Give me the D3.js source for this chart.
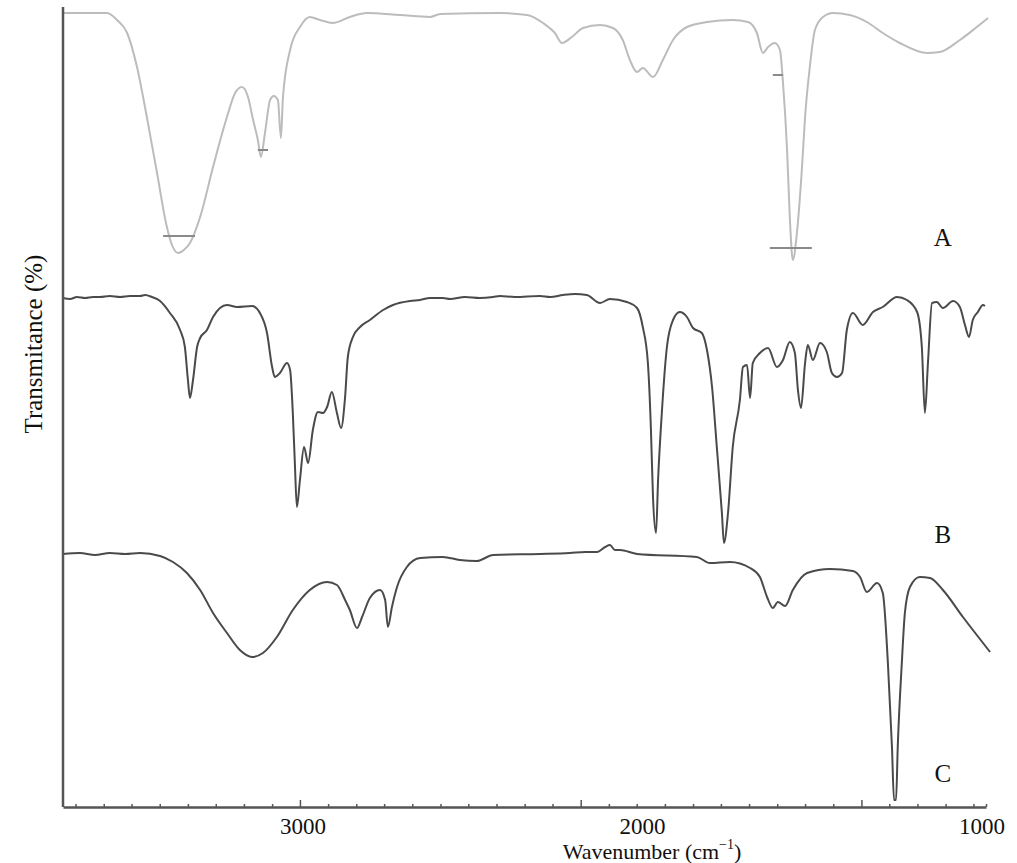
<!DOCTYPE html>
<html>
<head>
<meta charset="utf-8">
<script src="https://cdn.jsdelivr.net/npm/d3@7"></script>
<style>
	body { margin: 0; background: #fff; }
	text { font-family: "Liberation Serif", "DejaVu Serif", serif; fill: #111; }
</style>
</head>
<body>
<svg id="myChart" width="1017" height="863"></svg>
<script>
// Spectra: [wavenumber (cm-1), offset transmittance (a.u.)]
const spectrumA = [
	[3707, 794], [3577, 794], [3548, 787], [3518, 774], [3489, 740], [3460, 690], [3430, 634],
	[3401, 580], [3386, 562], [3368, 554], [3351, 557], [3333, 564], [3303, 590], [3265, 640],
	[3224, 690], [3200, 714], [3180, 720], [3162, 710], [3147, 687], [3133, 667], [3124, 650],
	[3112, 674], [3097, 707], [3086, 711], [3074, 707], [3065, 669], [3059, 710], [3038, 757],
	[3009, 780], [2980, 790], [2950, 787], [2912, 784], [2862, 790], [2812, 794], [2714, 792],
	[2626, 790], [2596, 793], [2420, 794], [2340, 792], [2293, 784], [2258, 774], [2237, 764],
	[2208, 770], [2175, 779], [2125, 782], [2087, 779], [2058, 767], [2037, 747], [2016, 735],
	[1999, 739], [1969, 730], [1940, 747], [1910, 767], [1869, 780], [1810, 785], [1734, 787],
	[1689, 785], [1663, 774], [1645, 754], [1630, 760], [1610, 764], [1595, 757], [1586, 724],
	[1574, 657], [1566, 590], [1557, 547], [1545, 574], [1530, 640], [1521, 690], [1507, 740],
	[1492, 777], [1468, 790], [1439, 794], [1389, 792], [1339, 785], [1292, 774], [1242, 764],
	[1162, 754], [1124, 755], [1065, 767], [1015, 780], [982, 789]
];

// Peak marker bars on spectrum A: [from, to, level]
const markersA = [
	[3412, 3318, 571], [3133, 3103, 657], [1625, 1501, 559], [1616, 1586, 732]
];

const spectrumB = [
	[3707, 509], [3686, 508], [3666, 510], [3642, 509], [3619, 510], [3598, 510], [3569, 511],
	[3539, 510], [3510, 511], [3480, 511], [3465, 512], [3445, 510], [3421, 506], [3392, 494],
	[3362, 477], [3348, 460], [3339, 427], [3333, 409], [3324, 427], [3312, 460], [3303, 469],
	[3283, 477], [3265, 490], [3224, 502], [3194, 500], [3150, 501], [3127, 494], [3106, 474],
	[3091, 440], [3083, 430], [3068, 434], [3047, 444], [3038, 437], [3030, 394], [3024, 344],
	[3018, 300], [3009, 327], [2997, 360], [2985, 344], [2971, 377], [2956, 395], [2941, 394],
	[2929, 400], [2915, 415], [2900, 394], [2888, 379], [2876, 410], [2868, 450], [2853, 470],
	[2832, 480], [2803, 487], [2764, 497], [2735, 502], [2685, 506], [2655, 507], [2626, 509],
	[2588, 509], [2567, 508], [2523, 510], [2479, 509], [2440, 510], [2420, 511], [2376, 510],
	[2302, 511], [2272, 510], [2234, 512], [2199, 513], [2164, 512], [2125, 504], [2096, 508],
	[2046, 505], [2016, 499], [1999, 480], [1984, 444], [1975, 377], [1969, 310], [1960, 274],
	[1954, 327], [1943, 394], [1928, 460], [1910, 487], [1890, 495], [1869, 490], [1851, 479],
	[1825, 474], [1810, 457], [1795, 420], [1781, 360], [1766, 294], [1760, 264], [1748, 294],
	[1734, 360], [1713, 407], [1704, 440], [1692, 442], [1683, 409], [1675, 444], [1654, 454],
	[1630, 459], [1604, 440], [1586, 447], [1566, 465], [1551, 454], [1542, 417], [1533, 399],
	[1521, 444], [1513, 462], [1498, 447], [1477, 464], [1457, 455], [1442, 434], [1427, 430],
	[1412, 434], [1398, 477], [1380, 494], [1351, 482], [1321, 495], [1292, 500], [1250, 510],
	[1221, 507], [1191, 495], [1177, 460], [1168, 394], [1159, 444], [1147, 504], [1133, 505],
	[1115, 499], [1085, 506], [1065, 500], [1050, 482], [1038, 470], [1027, 487], [1012, 495],
	[997, 502], [991, 501]
];

const spectrumC = [
	[3707, 253], [3657, 254], [3613, 252], [3569, 254], [3524, 253], [3480, 254], [3421, 251],
	[3383, 245], [3342, 234], [3303, 217], [3265, 194], [3224, 174], [3186, 157], [3150, 150],
	[3118, 154], [3077, 170], [3030, 197], [2980, 217], [2929, 225], [2900, 222], [2876, 207],
	[2862, 197], [2841, 179], [2826, 190], [2803, 209], [2773, 217], [2758, 207], [2750, 180],
	[2738, 200], [2723, 220], [2694, 240], [2655, 249], [2588, 250], [2538, 247], [2488, 246],
	[2440, 252], [2302, 253], [2214, 254], [2169, 255], [2134, 255], [2110, 260], [2096, 262],
	[2081, 257], [2066, 257], [2016, 253], [1840, 250], [1801, 244], [1742, 245], [1683, 239],
	[1654, 230], [1633, 210], [1616, 199], [1601, 205], [1580, 201], [1557, 217], [1515, 234],
	[1448, 238], [1380, 236], [1359, 230], [1339, 215], [1309, 224], [1292, 214], [1277, 144],
	[1265, 60], [1259, 7], [1253, 7], [1248, 60], [1236, 144], [1227, 194], [1212, 220],
	[1183, 230], [1153, 229], [1115, 217], [1056, 190], [976, 155]
];

// Curve names and where the names sit: [name, wavenumber, level]
const curveLabels = [['A', 1115, 561], ['B', 1115, 264], ['C', 1115, 25]];

// Axis ticks as printed on the figure
const tickLabels = [3000, 2000, 1000];
const minorTicks = [3670, 3587, 3505, 3422, 3339, 3257, 3174, 3091, 3009, 2926, 2843, 2761,
	2678, 2595, 2513, 2430, 2347, 2265, 2182, 2099, 2017, 1934, 1851, 1769, 1686, 1603, 1521,
	1438, 1355, 1273, 1190, 1107, 1025, 988];
const majorTicks = [3009, 2182, 1355];

const svg = d3.select('#myChart');

const xScale = d3.scaleLinear()
	.domain([3707, 988])
	.range([63, 986]);

const yScale = d3.scaleLinear()
	.domain([0, 800])
	.range([807, 7]);

const line = d3.line()
	.x(d => xScale(d[0]))
	.y(d => yScale(d[1]))
	.curve(d3.curveMonotoneX);

// Spectra
svg.append('path')
	.datum(spectrumA)
	.attr('d', line)
	.attr('fill', 'none')
	.attr('stroke', '#bcbcbc')
	.attr('stroke-width', 2);

svg.selectAll('.markerA')
	.data(markersA)
	.enter()
	.append('line')
		.attr('class', 'markerA')
		.attr('x1', d => xScale(d[0]))
		.attr('x2', d => xScale(d[1]))
		.attr('y1', d => yScale(d[2]))
		.attr('y2', d => yScale(d[2]))
		.attr('stroke', '#8a8a8a')
		.attr('stroke-width', 2);

[spectrumB, spectrumC].forEach(s => {
	svg.append('path')
		.datum(s)
		.attr('d', line)
		.attr('fill', 'none')
		.attr('stroke', '#4a4a4a')
		.attr('stroke-width', 2);
});

// Axes
svg.append('line')
	.attr('x1', xScale.range()[0]).attr('x2', xScale.range()[0])
	.attr('y1', yScale(800)).attr('y2', yScale(0))
	.attr('stroke', '#555').attr('stroke-width', 2.5);

const xAxis = svg.append('g')
	.attr('class', 'axis axis-x')
	.attr('transform', `translate(0, ${yScale(0)})`)
	.call(d3.axisTop(xScale)
		.tickValues(minorTicks)
		.tickSize(3)
		.tickSizeOuter(0)
		.tickFormat(''));

xAxis.select('.domain')
	.attr('stroke', '#555')
	.attr('stroke-width', 2.5);

xAxis.selectAll('.tick line')
	.attr('stroke', '#555')
	.attr('stroke-width', 1.5)
	.attr('y2', d => majorTicks.includes(d) ? -7 : -3);

svg.selectAll('.tick-label')
	.data(tickLabels)
	.enter()
	.append('text')
		.attr('class', 'tick-label')
		.attr('x', d => xScale(d))
		.attr('y', 834)
		.attr('text-anchor', 'middle')
		.style('font-size', '23px')
		.text(d => d);

// Axis titles
const xTitle = svg.append('text')
	.attr('x', 652)
	.attr('y', 859)
	.attr('text-anchor', 'middle')
	.style('font-size', '22px');
xTitle.append('tspan').text('Wavenumber (cm');
xTitle.append('tspan').attr('dy', -10).style('font-size', '14px').text('\u22121');
xTitle.append('tspan').attr('dy', 10).text(')');

svg.append('text')
	.attr('transform', 'translate(42, 344) rotate(-90)')
	.attr('text-anchor', 'middle')
	.style('font-size', '25px')
	.text('Transmitance (%)');

// Curve names
svg.selectAll('.curve-label')
	.data(curveLabels)
	.enter()
	.append('text')
		.attr('class', 'curve-label')
		.attr('x', d => xScale(d[1]))
		.attr('y', d => yScale(d[2]))
		.attr('text-anchor', 'middle')
		.style('font-size', '25px')
		.text(d => d[0]);
</script>
</body>
</html>
